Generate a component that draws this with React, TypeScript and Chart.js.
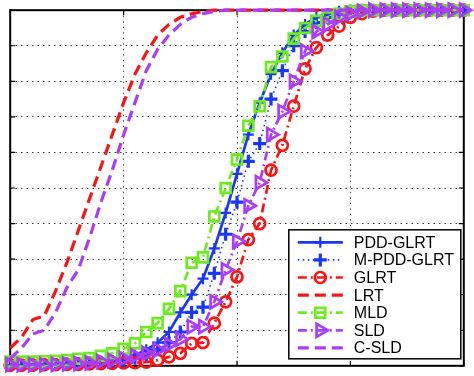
import React, { useEffect, useRef } from "react";
import { Chart, registerables } from "chart.js";
import { drawPoint } from "chart.js/helpers";

Chart.register(...registerables);

const xValues = [0, 1, 2, 3, 4, 5, 6, 7, 8, 9, 10, 11, 12, 13, 14, 15, 16, 17, 18, 19, 20, 21, 22, 23, 24, 25, 26, 27, 28, 29, 30, 31, 32, 33, 34, 35, 36, 37, 38, 39, 40];
const xTicks = [0, 10, 20, 30, 40];
const yTicks = [0, 0.1, 0.2, 0.3, 0.4, 0.5, 0.6, 0.7, 0.8, 0.9, 1];
const seriesNames = ["PDD-GLRT", "M-PDD-GLRT", "GLRT", "LRT", "MLD", "SLD", "C-SLD"];

const pddGlrt = [0, 0, 0.002, 0.003, 0.004, 0.005, 0.007, 0.01, 0.012, 0.015, 0.02, 0.03, 0.045, 0.065, 0.095, 0.15, 0.2, 0.245, 0.33, 0.43, 0.54, 0.65, 0.74, 0.82, 0.88, 0.93, 0.96, 0.98, 0.99, 0.997, 1, 1, 1, 1, 1, 1, 1, 1, 1, 1, 1];
const mPddGlrt = [0, 0.001, 0.002, 0.003, 0.004, 0.005, 0.006, 0.008, 0.01, 0.012, 0.015, 0.022, 0.032, 0.045, 0.065, 0.095, 0.15, 0.165, 0.26, 0.37, 0.46, 0.575, 0.625, 0.75, 0.83, 0.9, 0.94, 0.965, 0.98, 0.99, 0.997, 1, 1, 1, 1, 1, 1, 1, 1, 1, 1];
const glrt = [0.002, 0.002, 0.002, 0.003, 0.003, 0.004, 0.004, 0.005, 0.006, 0.007, 0.008, 0.009, 0.01, 0.016, 0.025, 0.035, 0.063, 0.065, 0.12, 0.18, 0.25, 0.355, 0.4, 0.55, 0.62, 0.73, 0.835, 0.895, 0.93, 0.955, 0.98, 0.99, 0.997, 1, 1, 1, 1, 1, 1, 1, 1];
const lrt = [0.05, 0.08, 0.13, 0.14, 0.21, 0.29, 0.38, 0.47, 0.56, 0.65, 0.74, 0.82, 0.88, 0.93, 0.96, 0.98, 0.99, 0.997, 1, 1, 1, 1, 1, 1, 1, 1, 1, 1, 1, 1, 1, 1, 1, 1, 1, 1, 1, 1, 1, 1, 1];
const mld = [0.012, 0.012, 0.012, 0.013, 0.014, 0.016, 0.02, 0.022, 0.028, 0.035, 0.048, 0.063, 0.095, 0.12, 0.16, 0.21, 0.29, 0.305, 0.42, 0.5, 0.58, 0.675, 0.73, 0.84, 0.87, 0.92, 0.95, 0.97, 0.98, 0.99, 0.997, 1, 1, 1, 1, 1, 1, 1, 1, 1, 1];
const sld = [0.003, 0.003, 0.003, 0.003, 0.004, 0.005, 0.006, 0.008, 0.012, 0.015, 0.02, 0.028, 0.035, 0.045, 0.06, 0.075, 0.11, 0.11, 0.18, 0.27, 0.35, 0.45, 0.515, 0.65, 0.715, 0.8, 0.885, 0.94, 0.96, 0.98, 0.99, 0.997, 1, 1, 1, 1, 1, 1, 1, 1, 1];
const cSld = [0.02, 0.05, 0.09, 0.1, 0.15, 0.22, 0.27, 0.36, 0.46, 0.55, 0.65, 0.74, 0.83, 0.89, 0.93, 0.96, 0.98, 0.99, 0.997, 1, 1, 1, 1, 1, 1, 1, 1, 1, 1, 1, 1, 1, 1, 1, 1, 1, 1, 1, 1, 1, 1];

const BLUE = "rgb(25,55,245)";
const RED = "rgb(250,20,20)";
const GREEN = "rgb(110,235,30)";
const PURPLE = "rgb(170,60,250)";
const NONE = "rgba(0,0,0,0)";

const toPoints = (ys: number[]) => xValues.map((x, i) => ({ x, y: ys[i] }));

const frameAndTicks = {
  id: "frameAndTicks",
  beforeDatasetsDraw(chart: any) {
    const { ctx, chartArea: a, scales } = chart;
    ctx.save();
    ctx.strokeStyle = "#000";
    ctx.lineWidth = 1.2;
    const len = 5;
    ctx.beginPath();
    yTicks.forEach((v) => {
      const y = scales.y.getPixelForValue(v);
      ctx.moveTo(a.left, y);
      ctx.lineTo(a.left + len, y);
      ctx.moveTo(a.right, y);
      ctx.lineTo(a.right - len, y);
    });
    xTicks.forEach((v) => {
      const x = scales.x.getPixelForValue(v);
      ctx.moveTo(x, a.bottom);
      ctx.lineTo(x, a.bottom - len);
      ctx.moveTo(x, a.top);
      ctx.lineTo(x, a.top + len);
    });
    ctx.stroke();
    ctx.lineWidth = 2;
    ctx.strokeRect(a.left, a.top, a.right - a.left, a.bottom - a.top);
    ctx.restore();
  },
};

const matlabLegend = {
  id: "matlabLegend",
  afterDraw(chart: any) {
    const { ctx, chartArea: a } = chart;
    const w = 172;
    const h = 129;
    const right = a.right - 3;
    const bottom = a.bottom - 7;
    const left = right - w;
    const top = bottom - h;
    ctx.save();
    ctx.fillStyle = "#fff";
    ctx.fillRect(left, top, w, h);
    ctx.strokeStyle = "#000";
    ctx.lineWidth = 1.5;
    ctx.strokeRect(left, top, w, h);
    chart.data.datasets.forEach((ds: any, i: number) => {
      const cy = top + 12.5 + i * 17.6;
      const x0 = left + 9;
      const x1 = left + 54;
      const xm = (x0 + x1) / 2;
      ctx.setLineDash(ds.borderDash || []);
      ctx.strokeStyle = ds.borderColor;
      ctx.lineWidth = ds.borderWidth;
      ctx.beginPath();
      ctx.moveTo(x0, cy);
      ctx.lineTo(x1, cy);
      ctx.stroke();
      ctx.setLineDash([]);
      if (ds.pointRadius > 0) {
        ctx.strokeStyle = ds.pointBorderColor;
        ctx.fillStyle = NONE;
        ctx.lineWidth = ds.pointBorderWidth;
        drawPoint(ctx, {
          pointStyle: ds.pointStyle,
          rotation: ds.pointRotation || 0,
          radius: ds.pointRadius,
          borderWidth: ds.pointBorderWidth,
        } as any, xm, cy);
      }
      ctx.fillStyle = "#000";
      ctx.font = '16px "Liberation Sans", Arial, sans-serif';
      ctx.textBaseline = "middle";
      ctx.textAlign = "left";
      ctx.fillText(ds.label, left + 65, cy + 1);
    });
    ctx.restore();
  },
};

export default function App() {
  const ref = useRef<HTMLCanvasElement>(null);
  useEffect(() => {
    document.body.style.margin = "0";
    const common = { clip: false as any, tension: 0, fill: false };
    const chart = new Chart(ref.current!, {
      type: "line",
      data: {
        datasets: [
          { ...common, label: seriesNames[0], data: toPoints(pddGlrt), borderColor: BLUE, borderWidth: 2.7, borderDash: [], pointStyle: "cross", pointRadius: 5.5, pointBorderWidth: 2.2, pointBorderColor: BLUE, pointBackgroundColor: NONE, order: 7 },
          { ...common, label: seriesNames[1], data: toPoints(mPddGlrt), borderColor: BLUE, borderWidth: 1.6, borderDash: [1.5, 3.5], pointStyle: "cross", pointRadius: 6.5, pointBorderWidth: 3.2, pointBorderColor: BLUE, pointBackgroundColor: NONE, order: 6 },
          { ...common, label: seriesNames[2], data: toPoints(glrt), borderColor: RED, borderWidth: 2.7, borderDash: [9, 4, 2, 4], pointStyle: "circle", pointRadius: 5.5, pointBorderWidth: 2.7, pointBorderColor: RED, pointBackgroundColor: NONE, order: 5 },
          { ...common, label: seriesNames[3], data: toPoints(lrt), borderColor: RED, borderWidth: 3.2, borderDash: [11, 6], pointRadius: 0, order: 4 },
          { ...common, label: seriesNames[4], data: toPoints(mld), borderColor: GREEN, borderWidth: 2.7, borderDash: [9, 4, 2, 4], pointStyle: "rect", pointRadius: 7, pointBorderWidth: 2.7, pointBorderColor: GREEN, pointBackgroundColor: NONE, order: 3 },
          { ...common, label: seriesNames[5], data: toPoints(sld), borderColor: PURPLE, borderWidth: 2.7, borderDash: [9, 4, 2, 4], pointStyle: "triangle", pointRotation: 90, pointRadius: 7.5, pointBorderWidth: 2.7, pointBorderColor: PURPLE, pointBackgroundColor: NONE, order: 2 },
          { ...common, label: seriesNames[6], data: toPoints(cSld), borderColor: PURPLE, borderWidth: 3.2, borderDash: [11, 6], pointRadius: 0, order: 1 },
        ],
      },
      options: {
        responsive: false,
        animation: false,
        layout: { padding: { left: 4, top: 5, right: 6, bottom: 6 } },
        plugins: { legend: { display: false }, tooltip: { enabled: false } },
        scales: {
          x: {
            type: "linear",
            min: 0,
            max: 40,
            ticks: { display: false, stepSize: 10 },
            afterBuildTicks: (s: any) => { s.ticks = xTicks.map((v) => ({ value: v })); },
            grid: { color: "rgba(0,0,0,0.75)", lineWidth: 1, drawTicks: false },
            border: { display: false, dash: [1.5, 4] },
          },
          y: {
            type: "linear",
            min: 0,
            max: 1,
            ticks: { display: false, stepSize: 0.1 },
            afterBuildTicks: (s: any) => { s.ticks = yTicks.map((v) => ({ value: v })); },
            grid: { color: "rgba(0,0,0,0.75)", lineWidth: 1, drawTicks: false },
            border: { display: false, dash: [1.5, 4] },
          },
        },
      },
      plugins: [frameAndTicks, matlabLegend],
    });
    return () => chart.destroy();
  }, []);
  return (
    <div style={{ position: "fixed", left: 0, top: 0, width: 474, height: 376, background: "#fff" }}>
      <canvas ref={ref} width={474} height={376} />
    </div>
  );
}
